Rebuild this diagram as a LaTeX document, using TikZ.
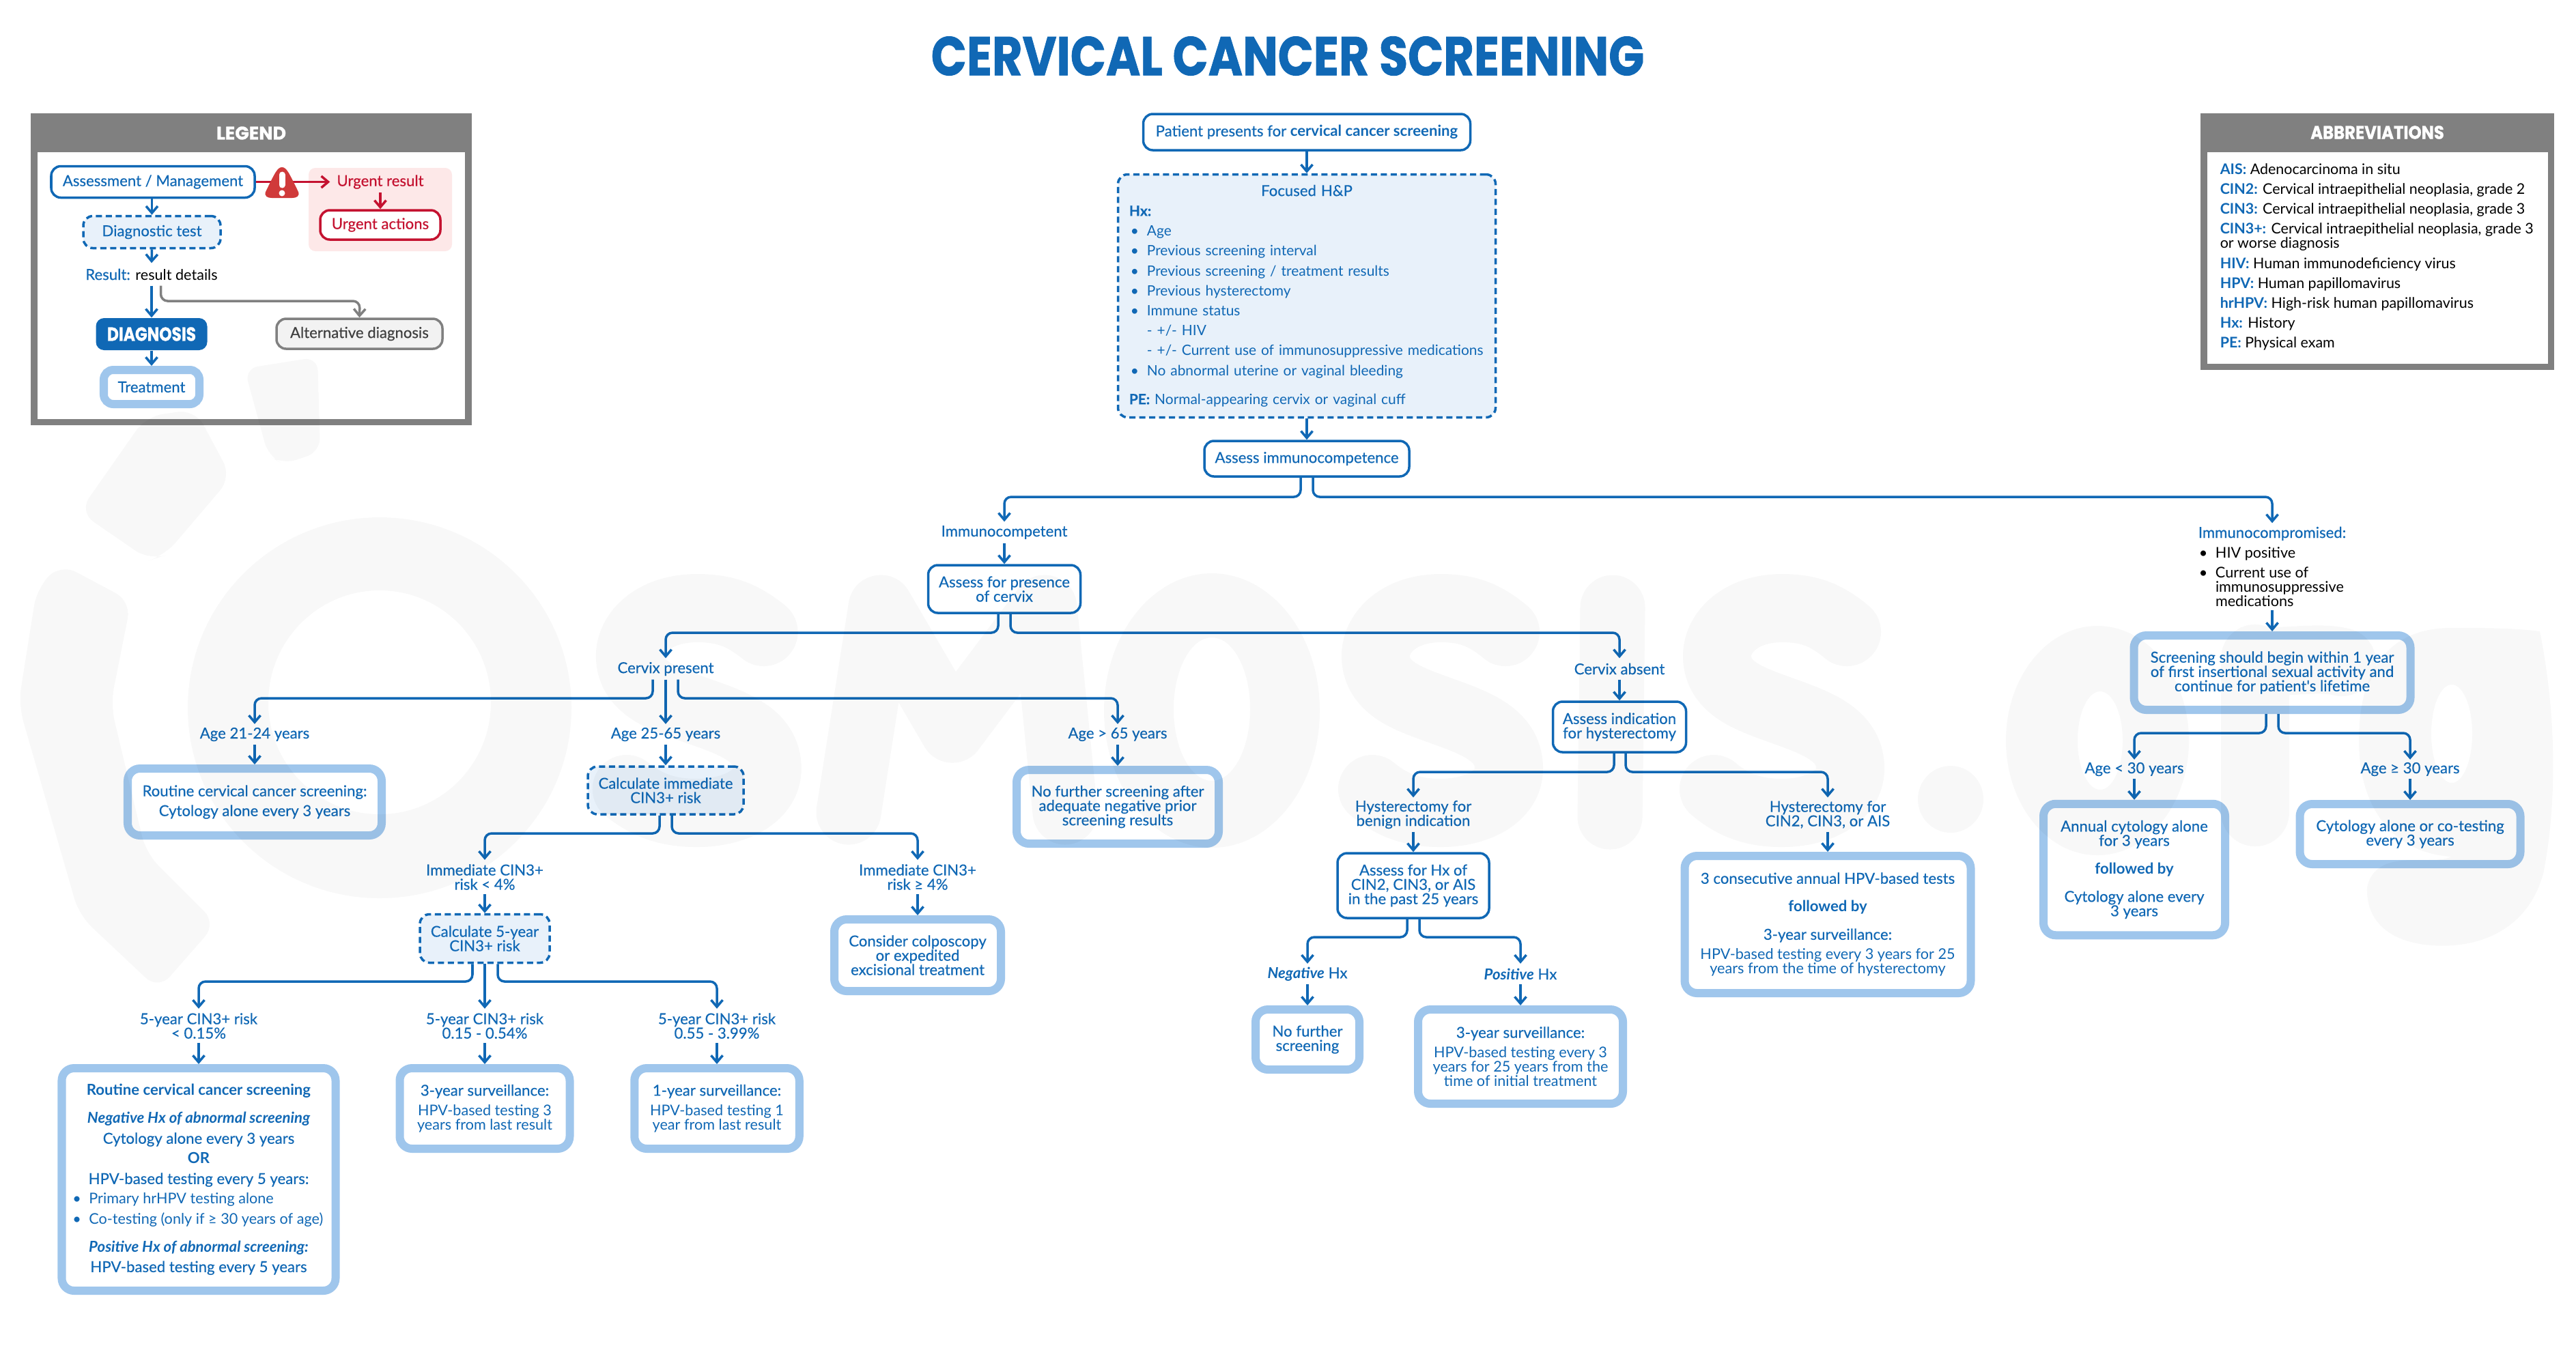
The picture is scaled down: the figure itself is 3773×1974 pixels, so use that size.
\documentclass[tikz,border=0pt]{standalone}
\usepackage{fontspec}
\usepackage{graphicx}
\usetikzlibrary{arrows.meta}
\setmainfont{Lato}
\newfontfamily\semi{Lato}[FakeBold=0.4]
\newfontfamily\dispf{Poppins}[FakeBold=1]
\definecolor{mainblue}{HTML}{1068B5}
\definecolor{lightblue}{HTML}{9FC6EC}
\definecolor{paleblue}{HTML}{E8F1FA}
\definecolor{midgray}{HTML}{808080}
\definecolor{palegray}{HTML}{F2F2F2}
\definecolor{urgent}{HTML}{C41230}
\definecolor{warnred}{HTML}{D03A3A}
\definecolor{pink}{HTML}{FDE8E8}
\newcommand\mfs{\fontsize{6.3pt}{.21cm}\selectfont}
\newcommand\lfs{\fontsize{5.95pt}{.292cm}\selectfont}
\newcommand\afs{\fontsize{6.1pt}{.21cm}\selectfont}
\newcommand\reg[1]{{\rmfamily\fontsize{6.15pt}{.21cm}\selectfont #1}}
\newcommand\bld[1]{{\rmfamily\bfseries #1}}
\newcommand\boldit[1]{{\rmfamily\bfseries\itshape #1}}
\newcommand\abb[1]{\textcolor{mainblue}{\bfseries #1}}
\newcommand\bul[1]{\hspace{.02cm}\makebox[.24cm][l]{•}#1}
\newcommand\wmS[2]{\draw[wmstroke,line width=1cm,shift={(#1,#2)}] (245,85) .. controls (215,60) and (190,50) .. (150,50) .. controls (90,50) and (55,85) .. (55,120) .. controls (55,170) and (110,185) .. (150,200) .. controls (200,218) and (250,235) .. (250,285) .. controls (250,325) and (205,350) .. (150,350) .. controls (110,350) and (80,340) .. (50,315);}
\tikzset{
  x=.01cm,y=-.01cm,
  every node/.style={inner sep=0pt,text=mainblue,align=center,font=\semi\mfs},
  wh/.style 2 args={minimum width=#1*.01cm,minimum height=#2*.01cm},
  hh/.style={minimum height=#1*.01cm},
  thinbox/.style={draw=mainblue,line width=.035cm,rounded corners=.14cm,fill=white},
  dashbox/.style={thinbox,fill=paleblue,dash pattern=on .09cm off .055cm},
  thickbox/.style={draw=lightblue,line width=.12cm,rounded corners=.18cm,fill=white},
  conn/.style={draw=mainblue,line width=.035cm,rounded corners=.1cm,-{Straight Barb[length=.1cm,width=.17cm,line width=.035cm]}},
  grayconn/.style={conn,draw=midgray},
  redconn/.style={conn,draw=urgent},
  panel/.style={fill=midgray},
  panelin/.style={fill=white},
  heading/.style={text=white},
  wmfill/.style={fill=black,opacity=.027},
  wmstroke/.style={draw=black,opacity=.027,line cap=round,line join=round},
}
\begin{document}
\begin{tikzpicture}
\useasboundingbox (0,0) rectangle (3773,1974);
\fill[white] (0,0) rectangle (3773,1974);
% title
\node (title) at (1886,82) {\resizebox{10.44cm}{.57cm}{\dispf\bfseries CERVICAL CANCER SCREENING}};
% legend
\node[panel,wh={646.5}{457}] (lframe) at (367.75,394.5) {};
\node[panelin,wh={626}{391}] (linner) at (368,418.5) {};
\node[heading] (ltitle) at (368,195) {\resizebox{1.02cm}{.19cm}{\dispf\bfseries LEGEND}};
\node[fill=pink,rounded corners=.1cm,wh={210}{122}] (redpanel) at (557,307) {};
\node[thinbox,wh={298}{46}] (assess) at (224,266.5) {Assessment / Management};
\node[dashbox,wh={201}{47}] (diag) at (222.5,340) {Diagnostic test};
\node[hh=32] (result) at (222,402) {Result: \reg{\textcolor{black}{result details}}};
\node[fill=mainblue,rounded corners=.12cm,wh={163}{47}] (dx) at (222,489.5) {\resizebox{1.3cm}{.2cm}{\color{white}\dispf\bfseries DIAGNOSIS}};
\node[thickbox,rounded corners=.14cm,wh={140}{50}] (treat) at (222,567) {Treatment};
\node[thinbox,draw=midgray,fill=palegray,text=black!75,wh={243}{44}] (alt) at (526.5,489) {Alternative diagnosis};
\node[text=urgent,wh={146}{30}] (uresult) at (557,266.5) {Urgent result};
\node[thinbox,draw=urgent,text=urgent,wh={176}{43}] (uact) at (557,329.5) {Urgent actions};
\draw[conn] (diag.north |- assess.south) -- (diag.north);
\draw[conn] (diag.south) -- (result.north);
\draw[conn] (result.south) -- (dx.north);
\draw[conn] (dx.south) -- (treat.north);
\coordinate (galt) at (527,441);
\draw[grayconn] ([xshift=.135cm]result.south) |- (galt) -- (alt.north);
\draw[redconn] (assess.east) -- (uresult.west);
\draw[redconn] (uresult.south) -- (uact.north);
\fill[warnred] (413,245) .. controls (420,245) and (424,255) .. (436,279) .. controls (441,288) and (433,290) .. (428,290) -- (398,290) .. controls (393,290) and (385,288) .. (390,279) .. controls (402,255) and (406,245) .. (413,245) -- cycle;
\draw[white,line width=.09cm,line cap=round] (413,256) -- (413,271);
\fill[white] (413,283) circle[radius=4.5];
% abbreviations
\node[panel,wh={518}{376}] (aframe) at (3482,354) {};
\node[panelin,wh={499}{310}] (ainner) at (3482.5,378) {};
\node[heading] (atitle) at (3482,194) {\resizebox{1.955cm}{.193cm}{\dispf\bfseries ABBREVIATIONS}};
\node[anchor=west,align=left,text=black,font=\rmfamily\afs] (abbr) at (3251,376) {\abb{AIS:} Adenocarcinoma in situ\\[.08cm]
\abb{CIN2:} Cervical intraepithelial neoplasia, grade 2\\[.08cm]
\abb{CIN3:} Cervical intraepithelial neoplasia, grade 3\\[.08cm]
\abb{CIN3+:} Cervical intraepithelial neoplasia, grade 3\\
or worse diagnosis\\[.09cm]
\abb{HIV:} Human immunodeficiency virus\\[.08cm]
\abb{HPV:} Human papillomavirus\\[.08cm]
\abb{hrHPV:} High-risk human papillomavirus\\[.08cm]
\abb{Hx:} History\\[.08cm]
\abb{PE:} Physical exam};
% top of the flow
\node[thinbox,wh={479}{53}] (patient) at (1914,193.5) {Patient presents for \bld{cervical cancer screening}};
\node[dashbox,wh={553}{356},text width=5.2cm,align=left,font=\rmfamily\lfs] (hp) at (1914,433.5) {\makebox[5.2cm][c]{\semi\fontsize{6.3pt}{.292cm}\selectfont Focused H\&P}\\
{\semi\bfseries Hx:}\\
\bul{Age}\\
\bul{Previous screening interval}\\
\bul{Previous screening / treatment results}\\
\bul{Previous hysterectomy}\\
\bul{Immune status}\\
\mbox{\hspace{.26cm}- +/- HIV}\\
\mbox{\hspace{.26cm}- +/- Current use of immunosuppressive medications}\\
\bul{No abnormal uterine or vaginal bleeding}\\[.13cm]
{\semi\bfseries PE:} Normal-appearing cervix or vaginal cuff};
\node[thinbox,wh={300}{52}] (immuno) at (1914,672) {Assess immunocompetence};
\draw[conn] (patient.south) -- (hp.north);
\draw[conn] (hp.south) -- (immuno.north);
% immunocompetent
\node[hh=30] (comp) at (1471,780) {Immunocompetent};
\node[thinbox,wh={223}{70}] (presence) at (1471,863) {Assess for presence\\of cervix};
\node[hh=30] (cpres) at (975,980) {Cervix present};
\node[hh=30] (cabs) at (2372,980) {Cervix absent};
\coordinate (t1) at (1471,728);
\coordinate (t2) at (3328,728);
\draw[conn] ([xshift=-.09cm]immuno.south) |- (t1) -- (comp.north);
\draw[conn] (comp.south) -- (presence.north);
\coordinate (p1) at (975,927);
\coordinate (p2) at (2372,927);
\draw[conn] ([xshift=-.09cm]presence.south) |- (p1) -- (cpres.north);
\draw[conn] ([xshift=.09cm]presence.south) |- (p2) -- (cabs.north);
% cervix present
\node[hh=29] (a2124) at (373,1076) {Age 21-24 years};
\node[hh=29] (a2565) at (975,1076) {Age 25-65 years};
\node[hh=29] (a65) at (1637,1076) {Age > 65 years};
\coordinate (q1) at (373,1023);
\coordinate (q2) at (1637,1023);
\draw[conn] ([xshift=-.19cm]cpres.south) |- (q1) -- (a2124.north);
\draw[conn] (cpres.south) -- (a2565.north);
\draw[conn] ([xshift=.18cm]cpres.south) |- (q2) -- (a65.north);
\node[thickbox,wh={372}{98}] (routine) at (373,1175) {Routine cervical cancer screening:\\[.08cm]Cytology alone every 3 years};
\node[dashbox,wh={228}{70}] (calc) at (975,1158) {Calculate immediate\\CIN3+ risk};
\node[thickbox,wh={296}{108}] (nf65) at (1637,1182) {No further screening after\\adequate negative prior\\screening results};
\draw[conn] (a2124.south) -- (routine.north);
\draw[conn] (a2565.south) -- (calc.north);
\draw[conn] (a65.south) -- (nf65.north);
% immediate risk
\node[hh=49] (imlo) at (710,1285) {Immediate CIN3+\\risk < 4\%};
\node[hh=49] (imhi) at (1344,1285) {Immediate CIN3+\\risk ≥ 4\%};
\coordinate (r1) at (710,1221);
\coordinate (r2) at (1344,1221);
\draw[conn] ([xshift=-.09cm]calc.south) |- (r1) -- (imlo.north);
\draw[conn] ([xshift=.09cm]calc.south) |- (r2) -- (imhi.north);
\node[dashbox,wh={190}{71}] (calc5) at (710,1375) {Calculate 5-year\\CIN3+ risk};
\node[thickbox,wh={244}{105}] (consider) at (1344,1399.5) {Consider colposcopy\\or expedited\\excisional treatment};
\draw[conn] (imlo.south) -- (calc5.north);
\draw[conn] (imhi.south) -- (consider.north);
% 5-year risk
\node[hh=49] (fa) at (291,1503) {5-year CIN3+ risk\\< 0.15\%};
\node[hh=49] (fb) at (710,1503) {5-year CIN3+ risk\\0.15 - 0.54\%};
\node[hh=49] (fc) at (1050,1503) {5-year CIN3+ risk\\0.55 - 3.99\%};
\coordinate (s1) at (291,1438);
\coordinate (s2) at (1050,1438);
\draw[conn] ([xshift=-.18cm]calc5.south) |- (s1) -- (fa.north);
\draw[conn] (calc5.south) -- (fb.north);
\draw[conn] ([xshift=.19cm]calc5.south) |- (s2) -- (fc.north);
\node[thickbox,wh={401}{326}] (rc) at (291,1728) {\bld{Routine cervical cancer screening}\\[.2cm]
\boldit{Negative Hx of abnormal screening}\\[.09cm]
Cytology alone every 3 years\\[.08cm]
\bld{OR}\\[.09cm]
HPV-based testing every 5 years:\\[.08cm]
\makebox[3.73cm][l]{\reg{\bul{Primary hrHPV testing alone}}}\\[.09cm]
\makebox[3.73cm][l]{\reg{\bul{Co-testing (only if ≥ 30 years of age)}}}\\[.2cm]
\boldit{Positive Hx of abnormal screening:}\\[.08cm]
HPV-based testing every 5 years};
\node[thickbox,wh={249}{118}] (s3y) at (710,1624) {3-year surveillance:\\[.08cm]\reg{HPV-based testing 3}\\\reg{years from last result}};
\node[thickbox,wh={241.5}{118}] (s1y) at (1050,1624) {1-year surveillance:\\[.08cm]\reg{HPV-based testing 1}\\\reg{year from last result}};
\draw[conn] (fa.south) -- (rc.north);
\draw[conn] (fb.south) -- (s3y.north);
\draw[conn] (fc.south) -- (s1y.north);
% cervix absent
\node[thinbox,wh={195}{74}] (ind) at (2372,1065) {Assess indication\\for hysterectomy};
\draw[conn] (cabs.south) -- (ind.north);
\node[hh=49] (hb) at (2070,1193.5) {Hysterectomy for\\benign indication};
\node[hh=49] (hc) at (2677,1193.5) {Hysterectomy for\\CIN2, CIN3, or AIS};
\coordinate (u1) at (2070,1131);
\coordinate (u2) at (2677,1131);
\draw[conn] ([xshift=-.08cm]ind.south) |- (u1) -- (hb.north);
\draw[conn] ([xshift=.09cm]ind.south) |- (u2) -- (hc.north);
\node[thinbox,wh={222}{95}] (hxa) at (2070,1297.5) {Assess for Hx of\\CIN2, CIN3, or AIS\\in the past 25 years};
\node[thickbox,wh={419}{201}] (cons) at (2677,1354.5) {3 consecutive annual HPV-based tests\\[.2cm]
\bld{followed by}\\[.2cm]
3-year surveillance:\\[.08cm]
\reg{HPV-based testing every 3 years for 25}\\
\reg{years from the time of hysterectomy}};
\draw[conn] (hb.south) -- (hxa.north);
\draw[conn] (hc.south) -- (cons.north);
\node[hh=29] (neg) at (1915,1427) {\boldit{Negative} Hx};
\node[hh=29] (pos) at (2227,1427) {\boldit{Positive} Hx};
\coordinate (v1) at (1915,1373);
\coordinate (v2) at (2227,1373);
\draw[conn] ([xshift=-.09cm]hxa.south) |- (v1) -- (neg.north);
\draw[conn] ([xshift=.09cm]hxa.south) |- (v2) -- (pos.north);
\node[thickbox,wh={152}{88}] (nf) at (1915,1523) {No further\\screening};
\node[thickbox,wh={300}{138}] (s3b) at (2227,1548) {3-year surveillance:\\[.08cm]\reg{HPV-based testing every 3}\\\reg{years for 25 years from the}\\\reg{time of initial treatment}};
\draw[conn] (neg.south) -- (nf.north);
\draw[conn] (pos.south) -- (s3b.north);
% immunocompromised
\node[hh=126,text=black] (compr) at (3328,830) {\textcolor{mainblue}{Immunocompromised:}\\[.08cm]
\makebox[2.18cm][l]{\reg{\bul{HIV positive}}}\\[.08cm]
\makebox[2.18cm][l]{\reg{\bul{Current use of}}}\\
\makebox[2.18cm][l]{\reg{\hspace{.26cm}immunosuppressive}}\\
\makebox[2.18cm][l]{\reg{\hspace{.26cm}medications}}};
\draw[conn] ([xshift=.09cm]immuno.south) |- (t2) -- (compr.north);
\node[thickbox,wh={405}{109}] (screen) at (3328,985.5) {Screening should begin within 1 year\\of first insertional sexual activity and\\continue for patient's lifetime};
\draw[conn] (compr.south) -- (screen.north);
\node[hh=27] (alo) at (3126,1127) {Age < 30 years};
\node[hh=27] (ahi) at (3530,1127) {Age ≥ 30 years};
\coordinate (w1) at (3126,1074);
\coordinate (w2) at (3530,1074);
\draw[conn] ([xshift=-.09cm]screen.south) |- (w1) -- (alo.north);
\draw[conn] ([xshift=.09cm]screen.south) |- (w2) -- (ahi.north);
\node[thickbox,wh={266}{192.5}] (annual) at (3126,1274) {Annual cytology alone\\for 3 years\\[.2cm]\bld{followed by}\\[.2cm]Cytology alone every\\3 years};
\node[thickbox,wh={323}{88}] (cyt) at (3530,1222) {Cytology alone or co-testing\\every 3 years};
\draw[conn] (alo.south) -- (annual.north);
\draw[conn] (ahi.south) -- (cyt.north);
% faint watermark shapes laid over the sheet
\fill[wmfill,rounded corners=.25cm] (89,826) -- (192,881) -- (162,1032) -- (214,1250) -- (317,1353) -- (232,1450) -- (116,1341) -- (27,1032) -- (54,862) -- cycle;
\fill[wmfill,rounded corners=.25cm] (116,750) -- (214,610) -- (286,600) -- (339,699) -- (241,814) -- (219,821) -- cycle;
\fill[wmfill,rounded corners=.2cm] (358,540) -- (465,523) -- (469,662) -- (415,680) -- (393,668) -- cycle;
\fill[wmfill,even odd rule] (556,1037) ellipse[x radius=281,y radius=279] (556,1029) ellipse[x radius=163,y radius=164];
\begin{scope}[xscale=1.03]
\wmS{841}{841}
\end{scope}
\draw[wmstroke,line width=.95cm] (1243,1190) -- (1290,890) -- (1395,1070) -- (1530,890) -- (1560,1190);
\fill[wmfill,even odd rule] (1775,1041) ellipse[x radius=158,y radius=201] (1775,1039) ellipse[x radius=56,y radius=105];
\wmS{1960}{841}
\draw[wmstroke,line width=.95cm] (2362,890) -- (2358,1197);
\wmS{2460}{841}
\fill[wmfill] (2857,1171) ellipse[x radius=48,y radius=49];
\fill[wmfill,even odd rule] (3072,1085) ellipse[x radius=134,y radius=168] (3076,1085) ellipse[x radius=33,y radius=72];
\draw[wmstroke,line width=1cm] (3303,1190) -- (3303,965) .. controls (3340,975) and (3390,960) .. (3430,970);
\fill[wmfill,even odd rule] (3455,1085) .. controls (3455,980) and (3500,920) .. (3590,920) .. controls (3640,920) and (3680,920) .. (3720,925) .. controls (3745,1050) and (3745,1180) .. (3725,1280) .. controls (3700,1370) and (3620,1390) .. (3560,1385) .. controls (3500,1380) and (3465,1350) .. (3467,1300) .. controls (3480,1240) and (3560,1270) .. (3590,1255) .. controls (3510,1250) and (3455,1190) .. (3455,1085) -- cycle (3591,1075) ellipse[x radius=30,y radius=72];
\end{tikzpicture}
\end{document}
